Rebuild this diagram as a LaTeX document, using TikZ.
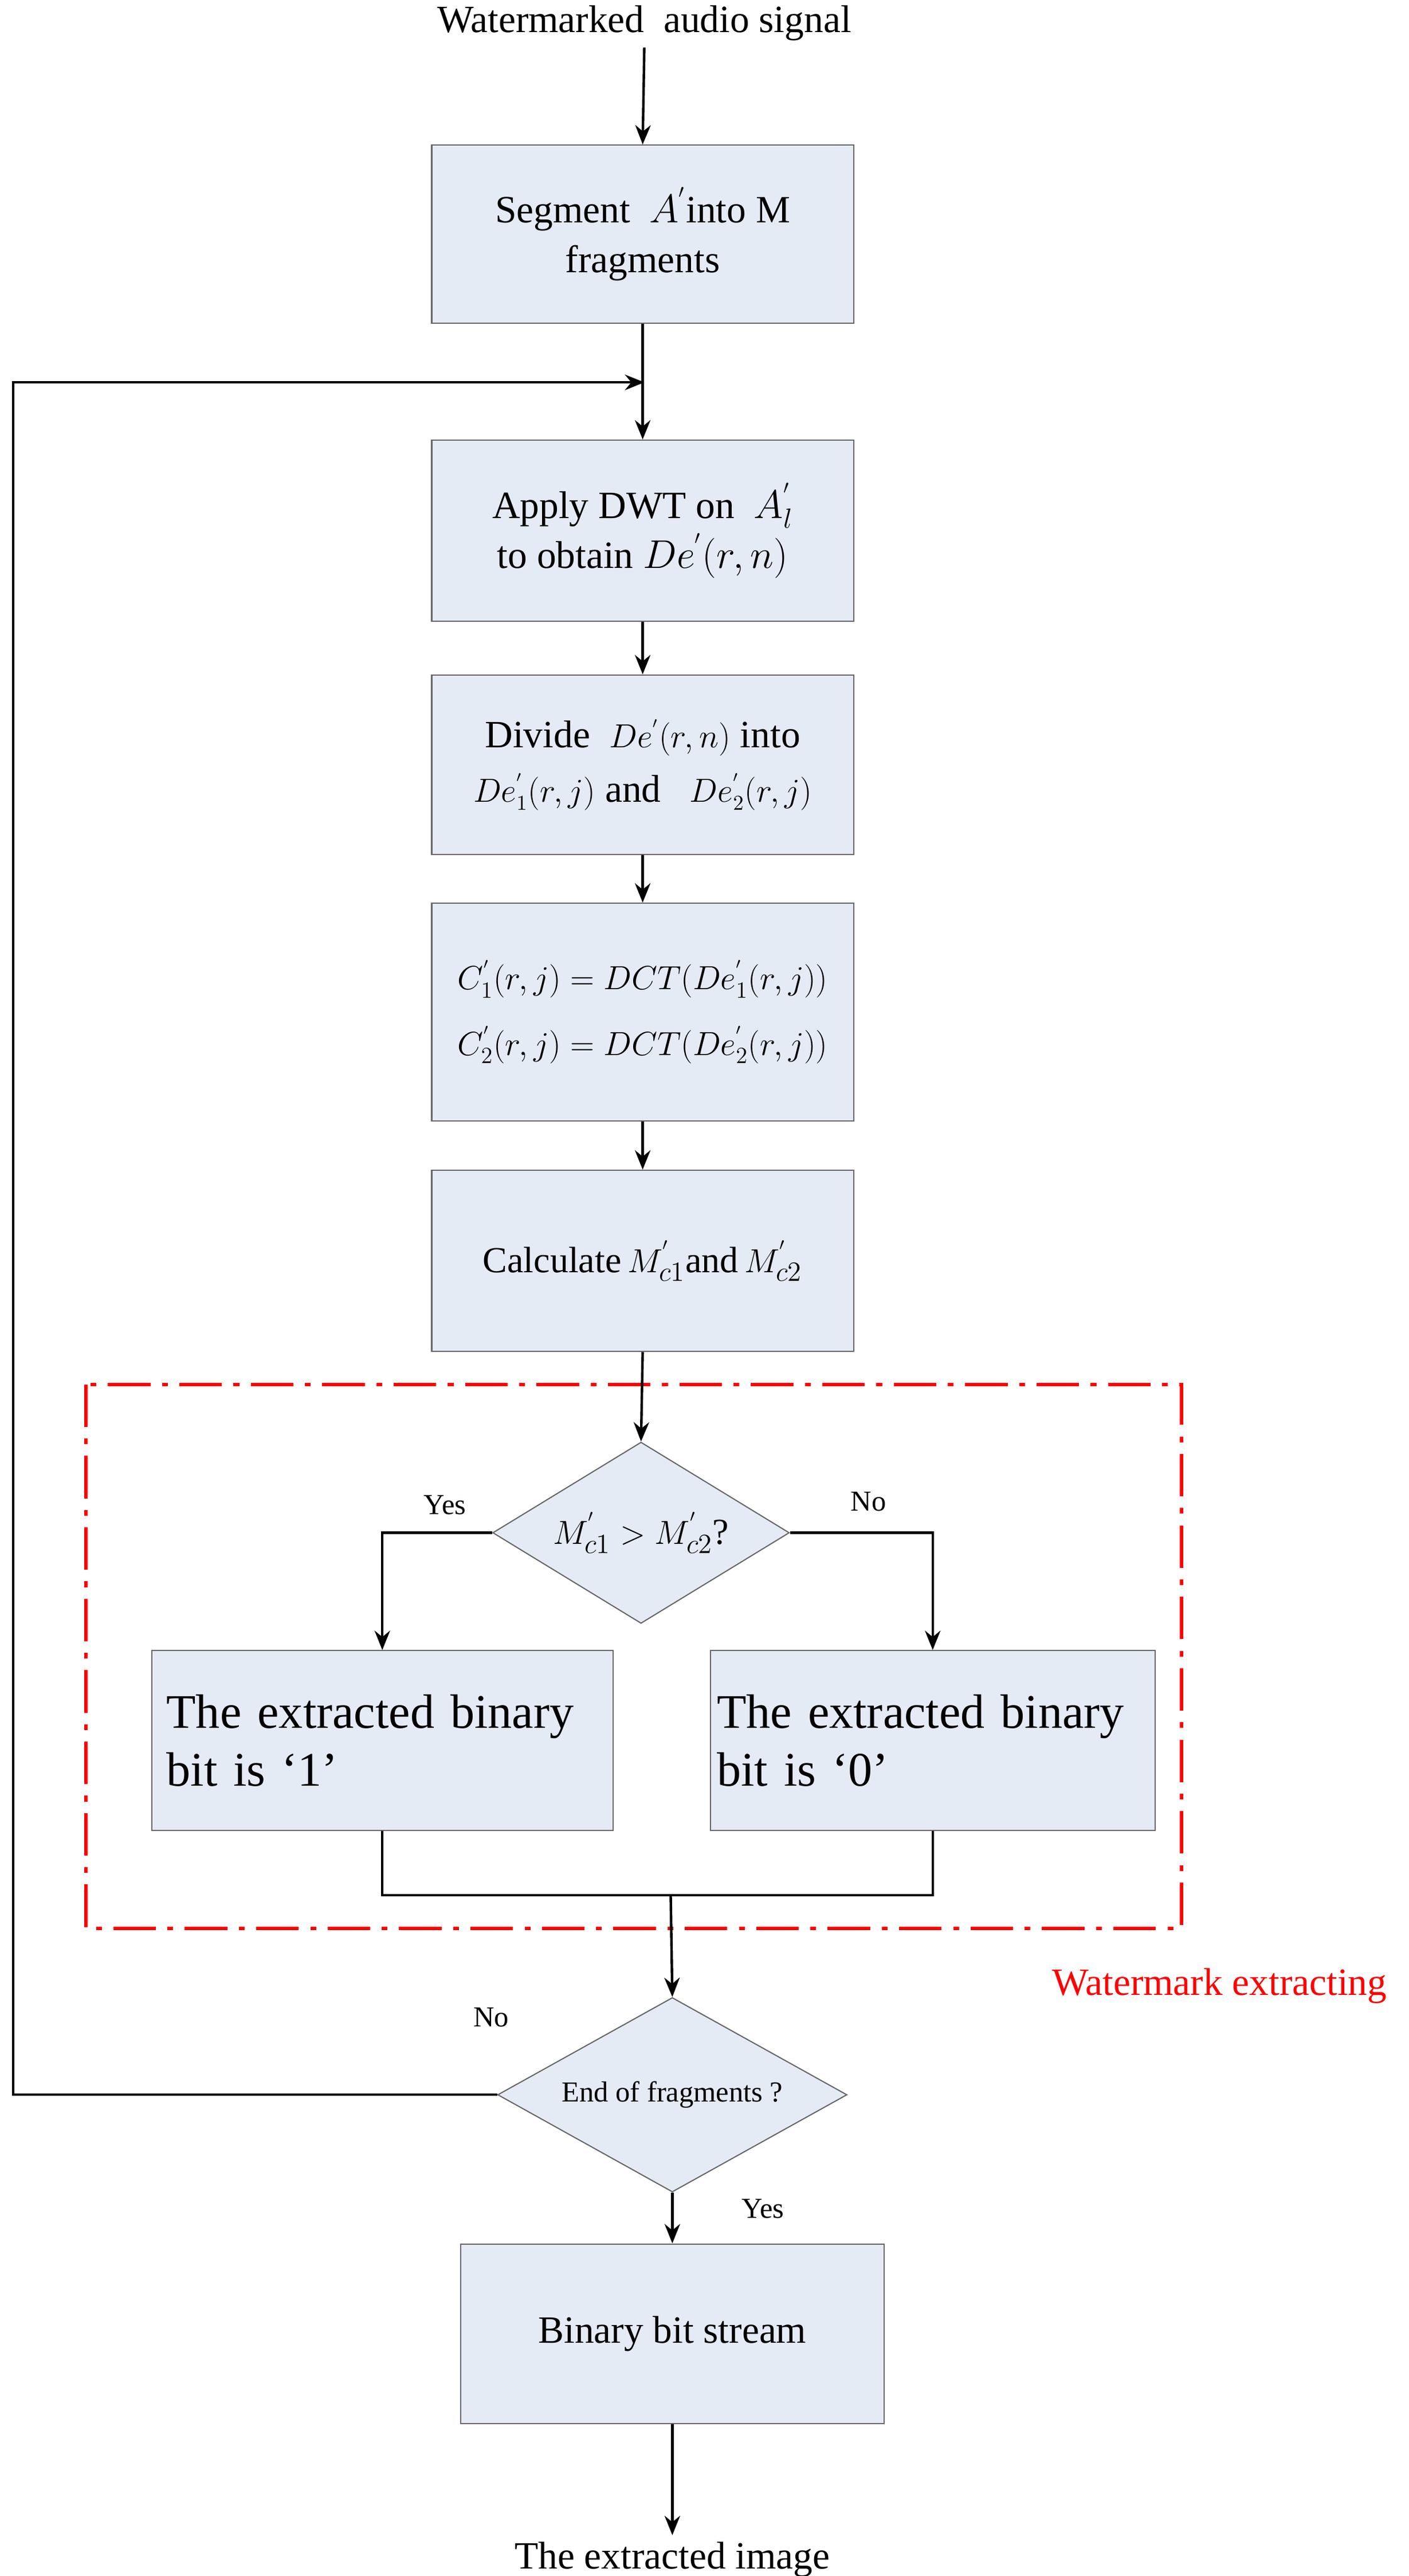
\documentclass[tikz,border=0pt]{standalone}
\usepackage{fontspec}
\setmainfont{Liberation Serif}
\usetikzlibrary{shapes.geometric,arrows.meta}
\definecolor{bfill}{HTML}{E5EBF5}
\begin{document}
\begin{tikzpicture}[x=0.03cm,y=-0.03cm,
 box/.style={draw=gray!80!black,fill=bfill,line width=0.6pt,align=center,inner sep=2pt},
 dia/.style={diamond,draw=gray!80!black,fill=bfill,line width=0.6pt,aspect=1.6,inner sep=0pt},
 ln/.style={line width=1.3pt},
 ar/.style={ln,-{Stealth[length=10pt,width=8pt]}},
 lab/.style={font=\fontsize{15}{17}\selectfont}]
\useasboundingbox (0,0) rectangle (855,1563);
\node (top) at (391,14) {\fontsize{20}{22}\selectfont Watermarked\ \ audio signal};
\node[box,minimum width=256*0.03cm,minimum height=108*0.03cm,font=\fontsize{20}{26}\selectfont] (b1) at (390,142) {Segment\ \ $A^{'}$into M\\fragments};
\node[box,minimum width=256*0.03cm,minimum height=110*0.03cm,font=\fontsize{20}{26}\selectfont] (b2) at (390,322) {Apply DWT on\ \ $A_l^{'}$\\ to obtain $De^{'}(r,n)$};
\node[box,minimum width=256*0.03cm,minimum height=109*0.03cm,font=\fontsize{20}{28}\selectfont] (b3) at (390,464) {Divide\ \ {\fontsize{16}{18}\selectfont$De^{'}(r,n)$}\ into\\ {\fontsize{16}{18}\selectfont$De_1^{'}(r,j)$}\ and\ \ \ {\fontsize{16}{18}\selectfont$De_2^{'}(r,j)$}};
\node[box,minimum width=256*0.03cm,minimum height=132*0.03cm,font=\fontsize{17}{30}\selectfont] (b4) at (390,614) {$C_1^{'}(r,j)=DCT(De_1^{'}(r,j))$\\[4pt]$C_2^{'}(r,j)=DCT(De_2^{'}(r,j))$};
\node[box,minimum width=256*0.03cm,minimum height=110*0.03cm,font=\fontsize{19}{26}\selectfont] (b5) at (390,765) {Calculate\,$M_{c1}^{'}$and\,$M_{c2}^{'}$};
\node[dia,minimum width=180*0.03cm,minimum height=110*0.03cm,font=\fontsize{19}{22}\selectfont] (d1) at (389,930) {$M^{'}_{c1}>M^{'}_{c2}$?};
\node[box,minimum width=280*0.03cm,minimum height=109*0.03cm,font=\fontsize{25}{30}\selectfont,align=left,text width=262*0.03cm] (b6) at (232,1056) {The extracted binary\\ bit is ‘1’};
\node[box,minimum width=270*0.03cm,minimum height=109*0.03cm,font=\fontsize{25}{30}\selectfont,align=left,text width=262*0.03cm] (b7) at (566,1056) {The extracted binary\\ bit is ‘0’};
\draw[red,line width=1.8pt,dash pattern=on 22pt off 6pt on 3pt off 6pt] (52,840) rectangle (717,1170);
\node[red,font=\fontsize{20}{22}\selectfont] (wl) at (740,1205) {Watermark extracting};
\node[dia,minimum width=212*0.03cm,minimum height=118*0.03cm,font=\fontsize{15}{17}\selectfont] (d2) at (408,1271) {End of fragments ?};
\node[box,minimum width=257*0.03cm,minimum height=109*0.03cm,font=\fontsize{20}{24}\selectfont] (b8) at (408,1416) {Binary bit stream};
\node (bot) at (408,1553) {\fontsize{20}{22}\selectfont The extracted image};
\node[lab] (y1) at (270,913) {Yes};
\node[lab] (n1) at (527,911) {No};
\node[lab] (n2) at (298,1224) {No};
\node[lab] (y2) at (463,1340) {Yes};
\coordinate (j) at (391,232);
\coordinate (m) at (407,1150);
\draw[ar] (top.south) -- (b1.north);
\draw[ar] (b1.south) -- (b2.north);
\draw[ar] (b2.south) -- (b3.north);
\draw[ar] (b3.south) -- (b4.north);
\draw[ar] (b4.south) -- (b5.north);
\draw[ar] (b5.south) -- (d1.north);
\draw[ar] (d1.west) -| (b6.north);
\draw[ar] (d1.east) -| (b7.north);
\draw[ln] (b6.south) |- (m) -| (b7.south);
\draw[ar] (m) -- (d2.north);
\draw[ar] (d2.south) -- (b8.north);
\draw[ar] (b8.south) -- (bot.north);
\draw[ar] (d2.west) -| (8,232) -- (j);
\end{tikzpicture}
\end{document}
